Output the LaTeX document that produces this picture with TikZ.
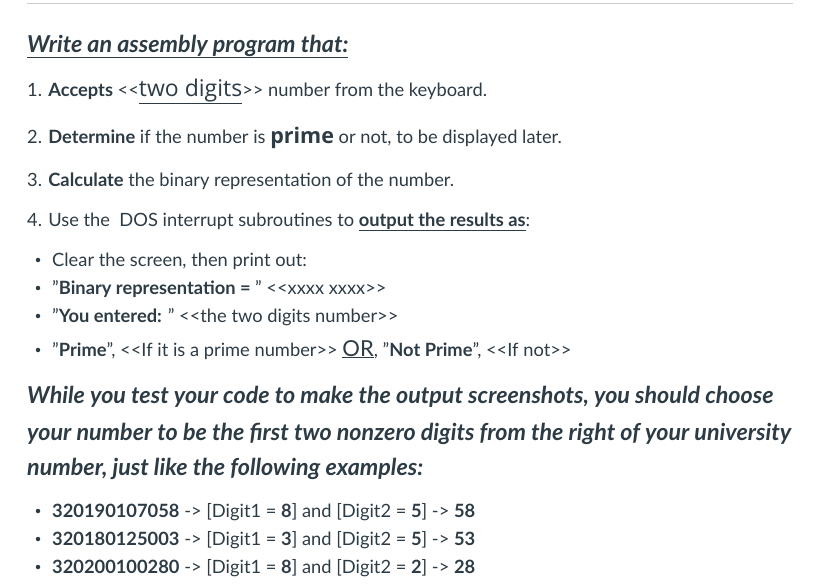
\documentclass[tikz,border=0pt]{standalone}
\usepackage{fontspec}
\setmainfont{Lato}
\newfontfamily\osans{Open Sans}
\newcommand\myul[1]{\underline{#1}}
\newcommand\lts{<{}<}
\newcommand\gts{>{}>}
\newcommand\qq{\symbol{34}}
\definecolor{txt}{HTML}{2D3B45}
\definecolor{rule}{HTML}{C7CDD1}
\tikzset{ln/.style={anchor=base west,inner sep=0pt,text=txt,font=\fontsize{18.3}{22}\selectfont},
hd/.style={anchor=base west,inner sep=0pt,text=txt,font=\fontsize{23.3}{26}\selectfont\bfseries\itshape},
bul/.style={circle,fill=txt,inner sep=0pt,minimum size=4.5pt}}
\begin{document}
\begin{tikzpicture}[x=1pt,y=-1pt]
\useasboundingbox (0,0) rectangle (813,587);
\coordinate (r1) at (27,3); \coordinate (r2) at (793,3);
\draw[rule,line width=1pt] (r1) -- (r2);
\node[hd] (h1) at (27,52) {\myul{Write an assembly program that:}};
\node[ln] (n1) at (27,96) {1. \textbf{Accepts} \lts{\osans\fontsize{23}{26}\selectfont\myul{two digits}}\gts{} number from the keyboard.};
\node[ln] (n2) at (27,143) {2. \textbf{Determine} if the number is {\osans\fontsize{21.5}{24}\selectfont\bfseries prime} or not, to be displayed later.};
\node[ln] (n3) at (27,186) {3. \textbf{Calculate} the binary representation of the number.};
\node[ln] (n4) at (27,226) {4. Use the\ \ DOS interrupt subroutines to \textbf{\myul{output the results as}}:};
\foreach \y/\t [count=\i] in {266/{Clear the screen, then print out:},294/{\qq\textbf{Binary representation = }\qq{} \lts xxxx xxxx\gts},322/{\qq\textbf{You entered: }\qq{} \lts the two digits number\gts},356/{\qq\textbf{Prime}\qq, \lts If it is a prime number\gts{} {\fontsize{22}{24}\selectfont\myul{OR}}, \qq\textbf{Not Prime}\qq, \lts If not\gts}}{
\node[ln] (b\i) at (52,\y) {\t};
\node[bul] (d\i) at (38,\y-6) {};}
\node[hd] (p1) at (27,403) {While you test your code to make the output screenshots, you should choose};
\node[hd] (p2) at (27,440) {your number to be the first two nonzero digits from the right of your university};
\node[hd] (p3) at (27,475) {number, just like the following examples:};
\foreach \y/\t [count=\i] in {517/{\textbf{320190107058} -> [Digit1 = \textbf{8}] and [Digit2 = \textbf{5}] -> \textbf{58}},545/{\textbf{320180125003} -> [Digit1 = \textbf{3}] and [Digit2 = \textbf{5}] -> \textbf{53}},573/{\textbf{320200100280} -> [Digit1 = \textbf{8}] and [Digit2 = \textbf{2}] -> \textbf{28}}}{
\node[ln] (e\i) at (52,\y) {\t};
\node[bul] (f\i) at (38,\y-6) {};}
\end{tikzpicture}
\end{document}
